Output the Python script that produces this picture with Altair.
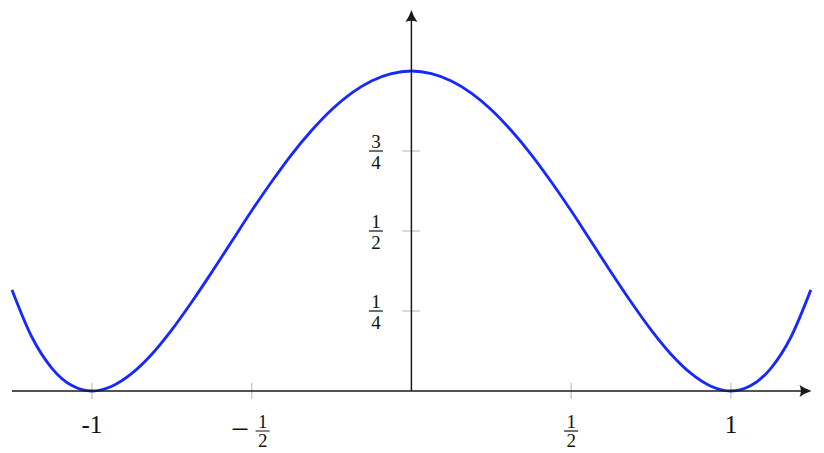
import altair as alt
import pandas as pd

# ---- data ----
curve_x = [-1.25, -1.1875, -1.125, -1.0625, -1.0, -0.9375, -0.875, -0.8125,
           -0.75, -0.6875, -0.625, -0.5625, -0.5, -0.4375, -0.375, -0.3125,
           -0.25, -0.1875, -0.125, -0.0625, 0.0, 0.0625, 0.125, 0.1875,
           0.25, 0.3125, 0.375, 0.4375, 0.5, 0.5625, 0.625, 0.6875,
           0.75, 0.8125, 0.875, 0.9375, 1.0, 1.0625, 1.125, 1.1875, 1.25]
curve_y = [0.316, 0.168, 0.071, 0.017, 0.0, 0.015, 0.055, 0.115,
           0.191, 0.278, 0.371, 0.467, 0.563, 0.654, 0.739, 0.814,
           0.879, 0.931, 0.969, 0.992, 1.0, 0.992, 0.969, 0.931,
           0.879, 0.814, 0.739, 0.654, 0.563, 0.467, 0.371, 0.278,
           0.191, 0.115, 0.055, 0.015, 0.0, 0.017, 0.071, 0.168, 0.316]

x_ticks = [-1, -0.5, 0.5, 1]
y_ticks = [0.25, 0.5, 0.75]

x_int_vals = [-1, 1]
x_int_labels = ["-1", "1"]

x_frac_vals = [-0.5, 0.5]
x_frac_num = ["1", "1"]
x_frac_den = ["2", "2"]
x_frac_sign = ["−", ""]

y_frac_vals = [0.25, 0.5, 0.75]
y_frac_num = ["1", "1", "3"]
y_frac_den = ["4", "2", "4"]

# ---- tables ----
curve = pd.DataFrame({"x": curve_x, "y": curve_y})
xt = pd.DataFrame({"v": x_ticks})
yt = pd.DataFrame({"v": y_ticks})
xint = pd.DataFrame({"v": x_int_vals, "t": x_int_labels})
xfr = pd.DataFrame({"v": x_frac_vals, "n": x_frac_num, "d": x_frac_den, "s": x_frac_sign})
yfr = pd.DataFrame({"v": y_frac_vals, "n": y_frac_num, "d": y_frac_den})
one = pd.DataFrame({"k": [0]})

XS = alt.Scale(domain=[-1.25, 1.26], nice=False, zero=False)
YS = alt.Scale(domain=[-0.19375, 1.196875], nice=False, zero=False)

FONT = "Liberation Serif"
AXC = "#1a1a1a"
TICKC = "#c4c4c4"
BLUE = "#1428ff"
TXT = "#111111"
ARROW = "M 1 0 Q -0.1 -0.35 -1 -1 Q -0.55 0 -1 1 Q -0.1 0.35 1 0 Z"
FS = 19


def X(field=None, datum=None):
    if datum is not None:
        return alt.X(datum=datum, scale=XS, axis=None)
    return alt.X(field, type="quantitative", scale=XS, axis=None)


def Y(field=None, datum=None):
    if datum is not None:
        return alt.Y(datum=datum, scale=YS, axis=None)
    return alt.Y(field, type="quantitative", scale=YS, axis=None)


# axis ticks
xtick_layer = alt.Chart(xt).mark_tick(orient="vertical", size=16, thickness=1.3,
                                      color=TICKC, opacity=1).encode(x=X("v"), y=Y(datum=0))
ytick_layer = alt.Chart(yt).mark_tick(orient="horizontal", size=18, thickness=1.3,
                                      color=TICKC, opacity=1).encode(x=X(datum=0), y=Y("v"))

# curve
curve_layer = alt.Chart(curve).mark_line(color=BLUE, strokeWidth=2.8,
                                         interpolate="monotone").encode(
    x=X("x"), y=Y("y"))

# axis lines
xaxis = alt.Chart(one).mark_rule(color=AXC, strokeWidth=1.5).encode(
    x=X(datum=-1.25), x2=alt.X2(datum=1.235), y=Y(datum=0))
yaxis = alt.Chart(one).mark_rule(color=AXC, strokeWidth=1.5).encode(
    x=X(datum=0), y=Y(datum=0), y2=alt.Y2(datum=1.17))

xarrow = alt.Chart(one).mark_point(shape=ARROW, filled=True, size=144, color=AXC,
                                   opacity=1, strokeWidth=0).encode(
    x=X(datum=1.2335), y=Y(datum=0))
yarrow = alt.Chart(one).mark_point(shape=ARROW, filled=True, size=144, color=AXC,
                                   opacity=1, strokeWidth=0, angle=270).encode(
    x=X(datum=0), y=Y(datum=1.1719))

# x integer labels
xint_layer = alt.Chart(xint).mark_text(font=FONT, fontSize=25, baseline="alphabetic",
                                       align="center", dy=42, color=TXT).encode(
    x=X("v"), y=Y(datum=0), text="t:N")


def xfrac_layers(sel, shift):
    base = alt.Chart(xfr).transform_filter(sel)
    num = base.mark_text(font=FONT, fontSize=FS, baseline="alphabetic", align="center",
                         dy=36.5, dx=shift, color=TXT).encode(
        x=X("v"), y=Y(datum=0), text="n:N")
    den = base.mark_text(font=FONT, fontSize=FS, baseline="alphabetic", align="center",
                         dy=55.5, dx=shift, color=TXT).encode(
        x=X("v"), y=Y(datum=0), text="d:N")
    bar = base.mark_tick(orient="horizontal", size=14, thickness=1.2, color=TXT,
                         opacity=1, xOffset=shift, yOffset=40).encode(
        x=X("v"), y=Y(datum=0))
    return [num, den, bar]


neg_layers = xfrac_layers(alt.datum.v < 0, 11)
pos_layers = xfrac_layers(alt.datum.v > 0, 0)
minus_layer = alt.Chart(xfr).transform_filter(alt.datum.v < 0).mark_text(
    font=FONT, fontSize=32, baseline="alphabetic", align="center", dy=48.5, dx=-12,
    color=TXT).encode(x=X("v"), y=Y(datum=0), text="s:N")

# y fraction labels
ynum = alt.Chart(yfr).mark_text(font=FONT, fontSize=FS, baseline="alphabetic",
                                align="center", dx=-35.5, dy=-3, color=TXT).encode(
    x=X(datum=0), y=Y("v"), text="n:N")
yden = alt.Chart(yfr).mark_text(font=FONT, fontSize=FS, baseline="alphabetic",
                                align="center", dx=-35.5, dy=17.5, color=TXT).encode(
    x=X(datum=0), y=Y("v"), text="d:N")
ybar = alt.Chart(yfr).mark_tick(orient="horizontal", size=14, thickness=1.2,
                                color=TXT, opacity=1, xOffset=-35.5,
                                yOffset=0).encode(x=X(datum=0), y=Y("v"))

chart = alt.layer(
    xtick_layer, ytick_layer, curve_layer, xaxis, yaxis, xarrow, yarrow,
    xint_layer, *neg_layers, *pos_layers, minus_layer, ynum, yden, ybar
).properties(
    width=802, height=445,
    autosize=alt.AutoSizeParams(type="none"),
    padding={"left": 4, "top": 0, "right": 0, "bottom": 0},
    background="white",
).configure_view(stroke=None)

chart.save("out.html", embed_options={"renderer": "svg", "actions": False})
